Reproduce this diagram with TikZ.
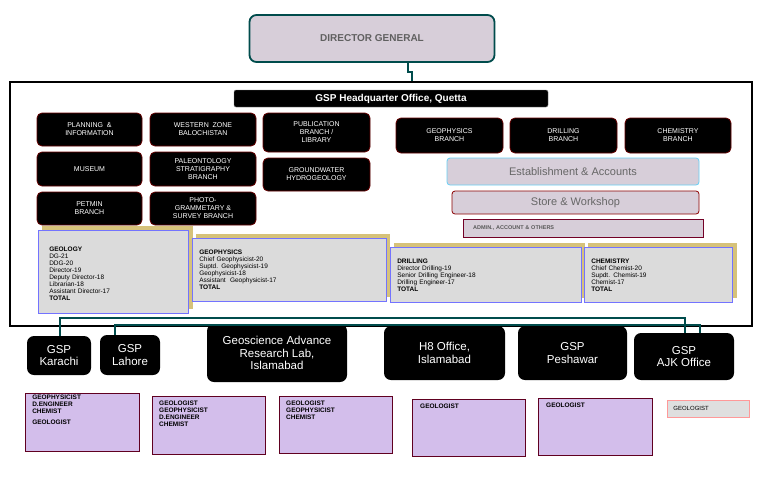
\documentclass[tikz,border=0pt]{standalone}
\usepackage{fontspec}
\setmainfont{Liberation Sans}
\begin{document}
\begin{tikzpicture}[x=1pt,y=-1pt,
  blk/.style={draw=red!40!black,fill=black,rounded corners=5pt,text=white,font=\fontsize{7}{8}\selectfont,align=center,line width=0.8pt},
  off/.style={fill=black,rounded corners=7pt,text=white,font=\fontsize{11.5}{12.5}\selectfont,align=center},
  grey/.style={draw=#1,fill=lilac,rounded corners=3pt,text=gray!80!black,line width=0.8pt},
  cad/.style={draw=blue!55!white,fill=gray!28,text=black,font=\fontsize{6.5}{7}\selectfont,align=left,inner sep=0pt,line width=0.6pt},
  lav/.style={draw=purple!50!black,fill=lav2,font=\bfseries\fontsize{6.5}{7}\selectfont,align=left,line width=0.5pt},
  con/.style={draw=teal!60!black,line width=1.5pt}]
\definecolor{lilac}{HTML}{D7CED9}
\definecolor{lav2}{HTML}{D3BEEB}
\definecolor{gold}{HTML}{D6C27A}
\useasboundingbox (0,0) rectangle (768,483);
% director
\node[draw=teal!60!black,line width=1.8pt,fill=lilac,rounded corners=7pt,minimum width=245pt,minimum height=47pt,font=\bfseries\fontsize{10}{11}\selectfont,text=gray!75!black] (dg) at (372,38.5) {DIRECTOR GENERAL};
\coordinate (j1) at (408,72); \coordinate (j2) at (412,72); \coordinate (j3) at (412,82);
\draw[con] (dg.south -| j1) -- (j1) -- (j2) -- (j3);
% HQ frame
\node[draw=black,line width=1.8pt,minimum width=742pt,minimum height=244pt,inner sep=0pt] (hq) at (381,204) {};
\node[fill=black,draw=gray,rounded corners=2pt,minimum width=314pt,minimum height=17pt,text=white,font=\bfseries\fontsize{10}{11}\selectfont] (title) at (391,98.5) {GSP Headquarter Office, Quetta};
% black branches
\node[blk,minimum width=105pt,minimum height=33pt] (plan) at (89.5,129.5) {PLANNING \ \&\\INFORMATION};
\node[blk,minimum width=106pt,minimum height=33pt] (west) at (203,129.5) {WESTERN \ ZONE\\BALOCHISTAN};
\node[blk,minimum width=107pt,minimum height=39pt] (pub) at (316.5,132.5) {PUBLICATION\\BRANCH /\\LIBRARY};
\node[blk,minimum width=105pt,minimum height=34pt] (mus) at (89.5,169) {MUSEUM};
\node[blk,minimum width=106pt,minimum height=34pt] (paleo) at (203,169) {PALEONTOLOGY\\STRATIGRAPHY\\BRANCH};
\node[blk,minimum width=107pt,minimum height=33pt] (gw) at (316.5,174.5) {GROUNDWATER\\HYDROGEOLOGY};
\node[blk,minimum width=105pt,minimum height=33pt] (pet) at (89.5,208.5) {PETMIN\\BRANCH};
\node[blk,minimum width=106pt,minimum height=33pt] (photo) at (203,208.5) {PHOTO-\\GRAMMETARY \&\\SURVEY BRANCH};
\node[blk,minimum width=107pt,minimum height=35pt] (gpb) at (449.5,135.5) {GEOPHYSICS\\BRANCH};
\node[blk,minimum width=107pt,minimum height=35pt] (drb) at (563.5,135.5) {DRILLING\\BRANCH};
\node[blk,minimum width=106pt,minimum height=35pt] (chb) at (678,135.5) {CHEMISTRY\\BRANCH};
% grey bars
\node[grey=cyan!60!white,minimum width=252pt,minimum height=27pt,font=\fontsize{11}{12}\selectfont] (est) at (573,171.5) {Establishment \& Accounts};
\node[grey=red!55!black,minimum width=247pt,minimum height=23pt,font=\fontsize{11}{12}\selectfont] (store) at (575.5,202.5) {Store \& Workshop};
\node[draw=purple!60!black,fill=lilac,minimum width=240pt,minimum height=18pt,anchor=west,font=\bfseries\fontsize{5.5}{6}\selectfont,text=gray!70!black,inner xsep=10pt,text width=220pt] (adm) at (463,228) {ADMIN., ACCOUNT \& OTHERS};
% cadre boxes with gold shadow
\fill[gold] (42,226) rectangle (193,309);
\node[cad,minimum width=150pt,minimum height=83pt,anchor=north west,text width=142pt] (geo) at (38,230) {\hspace*{7pt}\parbox{140pt}{\vspace{4pt}\textbf{GEOLOGY}\\DG-21\\DDG-20\\Director-19\\Deputy Director-18\\Librarian-18\\Assistant Director-17\\\textbf{TOTAL}}};
\fill[gold] (196,234) rectangle (390,297);
\node[cad,minimum width=194pt,minimum height=63pt,anchor=north west,text width=194pt] (gph) at (192,238) {\hspace*{7pt}\parbox{180pt}{\textbf{GEOPHYSICS}\\Chief Geophysicist-20\\Suptd. Geophysicist-19\\Geophysicist-18\\Assistant \ Geophysicist-17\\\textbf{TOTAL}}};
\fill[gold] (394,243) rectangle (585,298);
\node[cad,minimum width=191pt,minimum height=55pt,anchor=north west,text width=191pt] (drl) at (390,247) {\hspace*{7pt}\parbox{180pt}{\textbf{DRILLING}\\Director Drilling-19\\Senior Drilling Engineer-18\\Drilling Engineer-17\\\textbf{TOTAL}}};
\fill[gold] (588,243) rectangle (737,298);
\node[cad,minimum width=148pt,minimum height=55pt,anchor=north west,text width=148pt] (chm) at (584,247) {\hspace*{7pt}\parbox{140pt}{\textbf{CHEMISTRY}\\Chief Chemist-20\\Supdt. Chemist-19\\Chemist-17\\\textbf{TOTAL}}};
% offices
\node[off,minimum width=64pt,minimum height=39pt] (kar) at (59,355.5) {GSP\\Karachi};
\node[off,minimum width=60pt,minimum height=40pt] (lah) at (130,355) {GSP\\Lahore};
\node[off,minimum width=140pt,minimum height=58pt] (geos) at (277,353) {Geoscience Advance\\Research Lab,\\Islamabad};
\node[off,minimum width=121pt,minimum height=54pt] (h8) at (444.5,353) {H8 Office,\\Islamabad};
\node[off,minimum width=109pt,minimum height=54pt] (pesh) at (572.5,353) {GSP\\Peshawar};
\node[off,minimum width=100pt,minimum height=47pt] (ajk) at (684,356.5) {GSP\\AJK Office};
% connectors
\coordinate (t1) at (60,318); \coordinate (t2) at (685,318);
\coordinate (u1) at (115,325); \coordinate (u2) at (700,325);
\draw[con] (kar.north -| t1) -- (t1) -- (t2) -- (ajk.north -| t2);
\draw[con] (lah.north -| u1) -- (u1) -- (u2) -- (ajk.north -| u2);
% staff boxes
\node[lav,minimum width=114pt,minimum height=58pt,anchor=north west,text width=100pt,align=left] (s1) at (25,393) {\vspace{-32pt}GEOLOGIST\\GEOPHYSICIST\\D.ENGINEER\\CHEMIST};
\node[lav,minimum width=113pt,minimum height=58pt,anchor=north west] (s2) at (152,396) {};
\node[anchor=north west,font=\bfseries\fontsize{6.5}{7}\selectfont,align=left,inner sep=0pt] (s2t) at (159,401) {GEOLOGIST\\GEOPHYSICIST\\D.ENGINEER\\CHEMIST};
\node[lav,minimum width=113pt,minimum height=57pt,anchor=north west] (s3) at (279,396) {};
\node[anchor=north west,font=\bfseries\fontsize{6.5}{7}\selectfont,align=left,inner sep=0pt] (s3t) at (286,401) {GEOLOGIST\\GEOPHYSICIST\\CHEMIST};
\node[lav,minimum width=113pt,minimum height=57pt,anchor=north west] (s4) at (412,399) {};
\node[anchor=north west,font=\bfseries\fontsize{6.5}{7}\selectfont,inner sep=0pt] (s4t) at (420,404) {GEOLOGIST};
\node[lav,minimum width=114pt,minimum height=57pt,anchor=north west] (s5) at (538,398) {};
\node[anchor=north west,font=\bfseries\fontsize{6.5}{7}\selectfont,inner sep=0pt] (s5t) at (546,403) {GEOLOGIST};
\node[draw=pink!80!red,fill=gray!25,line width=0.8pt,minimum width=82pt,minimum height=17pt,anchor=north west,font=\fontsize{6}{7}\selectfont,text width=70pt] (s6) at (667,400) {GEOLOGIST};
\end{tikzpicture}
\end{document}
